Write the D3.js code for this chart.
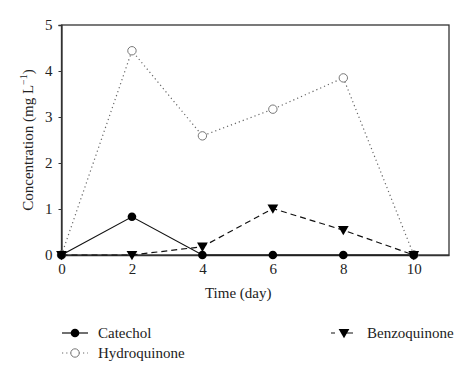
<!DOCTYPE html>
<html><head><meta charset="utf-8">
<script src="https://cdn.jsdelivr.net/npm/d3@7"></script>
<style>body{margin:0;background:#fff}svg{display:block}text{font-family:"Liberation Serif","DejaVu Serif",serif;fill:#222}</style>
</head><body>
<svg id="c" width="474" height="380"></svg>
<script>
const days = [0, 2, 4, 6, 8, 10];
const catechol = [0, 0.83, 0, 0, 0, 0];
const hydroquinone = [0, 4.44, 2.59, 3.17, 3.85, 0];
const benzoquinone = [0, 0, 0.18, 1.01, 0.54, 0];
const yTicks = [0, 1, 2, 3, 4, 5];
const xTicks = [0, 2, 4, 6, 8, 10];

const svg = d3.select("#c");
const L = 61.5, R = 449, T = 25, B = 255;
const x = d3.scaleLinear().domain([0, 11]).range([L, R]);
const y = d3.scaleLinear().domain([0, 5]).range([B, T]);
const axisCol = "#333";

// frame
svg.append("rect").attr("x", L).attr("y", T).attr("width", R - L).attr("height", B - T)
  .attr("fill", "none").attr("stroke", axisCol).attr("stroke-width", 1.3);

const ya = svg.append("g").attr("transform", `translate(${L},0)`)
  .call(d3.axisLeft(y).tickValues(yTicks).tickSize(3).tickPadding(6).tickFormat(d3.format("d")));
ya.select(".domain").attr("stroke", axisCol).attr("stroke-width", 1.3);
ya.selectAll(".tick line").attr("stroke", axisCol);
ya.selectAll("text").attr("font-size", 15).attr("font-family", "Liberation Serif").attr("fill", "#222");

const xa = svg.append("g").attr("transform", `translate(0,${B})`)
  .call(d3.axisBottom(x).tickValues(xTicks).tickSize(0).tickPadding(8).tickFormat(d3.format("d")));
xa.select(".domain").attr("stroke", axisCol).attr("stroke-width", 1.6);
xa.selectAll("text").attr("font-size", 15).attr("font-family", "Liberation Serif").attr("fill", "#222");

// axis titles
svg.append("text").attr("x", (L + R) / 2 - 17).attr("y", 298).attr("text-anchor", "middle")
  .attr("font-size", 15).text("Time (day)");
const yl = svg.append("text").attr("transform", `translate(33,${(T + B) / 2}) rotate(-90)`)
  .attr("text-anchor", "middle").attr("font-size", 15);
yl.append("tspan").text("Concentration (mg L");
yl.append("tspan").attr("font-size", 10).attr("dy", -6).text("−1");
yl.append("tspan").attr("dy", 6).text(")");

const line = d3.line().x((d, i) => x(days[i])).y(d => y(d));
const tri = d3.symbol().type(d3.symbolTriangle).size(50);

// Hydroquinone
svg.append("path").attr("d", line(hydroquinone)).attr("fill", "none")
  .attr("stroke", "#666").attr("stroke-width", 1.2).attr("stroke-dasharray", "1.2,3");
svg.selectAll(".hq").data(hydroquinone).enter().append("circle")
  .attr("cx", (d, i) => x(days[i])).attr("cy", d => y(d)).attr("r", 4.2)
  .attr("fill", "#fff").attr("stroke", "#777").attr("stroke-width", 1);

// Catechol
svg.append("path").attr("d", line(catechol)).attr("fill", "none")
  .attr("stroke", "#111").attr("stroke-width", 1.2);
svg.selectAll(".ca").data(catechol).enter().append("circle")
  .attr("cx", (d, i) => x(days[i])).attr("cy", d => y(d)).attr("r", 4.3).attr("fill", "#000");

// Benzoquinone
svg.append("path").attr("d", line(benzoquinone)).attr("fill", "none")
  .attr("stroke", "#111").attr("stroke-width", 1.2).attr("stroke-dasharray", "6,4");
svg.selectAll(".bq").data(benzoquinone).enter().append("path")
  .attr("d", tri).attr("fill", "#000")
  .attr("transform", (d, i) => `translate(${x(days[i])},${y(d) - 1}) rotate(180)`);

// Legend
const lg = svg.append("g");
// Catechol
lg.append("line").attr("x1", 62).attr("x2", 88).attr("y1", 333).attr("y2", 333).attr("stroke", "#111").attr("stroke-width", 1.2);
lg.append("circle").attr("cx", 75).attr("cy", 333).attr("r", 4.3).attr("fill", "#000");
lg.append("text").attr("x", 98).attr("y", 338).attr("font-size", 15).text("Catechol");
// Hydroquinone
lg.append("line").attr("x1", 62).attr("x2", 88).attr("y1", 353).attr("y2", 353).attr("stroke", "#666").attr("stroke-width", 1.2).attr("stroke-dasharray", "1.2,3");
lg.append("circle").attr("cx", 75).attr("cy", 353).attr("r", 4.2).attr("fill", "#fff").attr("stroke", "#777");
lg.append("text").attr("x", 98).attr("y", 358).attr("font-size", 15).text("Hydroquinone");
// Benzoquinone
lg.append("line").attr("x1", 331).attr("x2", 357).attr("y1", 333).attr("y2", 333).attr("stroke", "#111").attr("stroke-width", 1.2).attr("stroke-dasharray", "4,10,8");
lg.append("path").attr("d", tri).attr("fill", "#000").attr("transform", "translate(344,332) rotate(180)");
lg.append("text").attr("x", 367).attr("y", 338).attr("font-size", 15).text("Benzoquinone");
</script>
</body></html>
